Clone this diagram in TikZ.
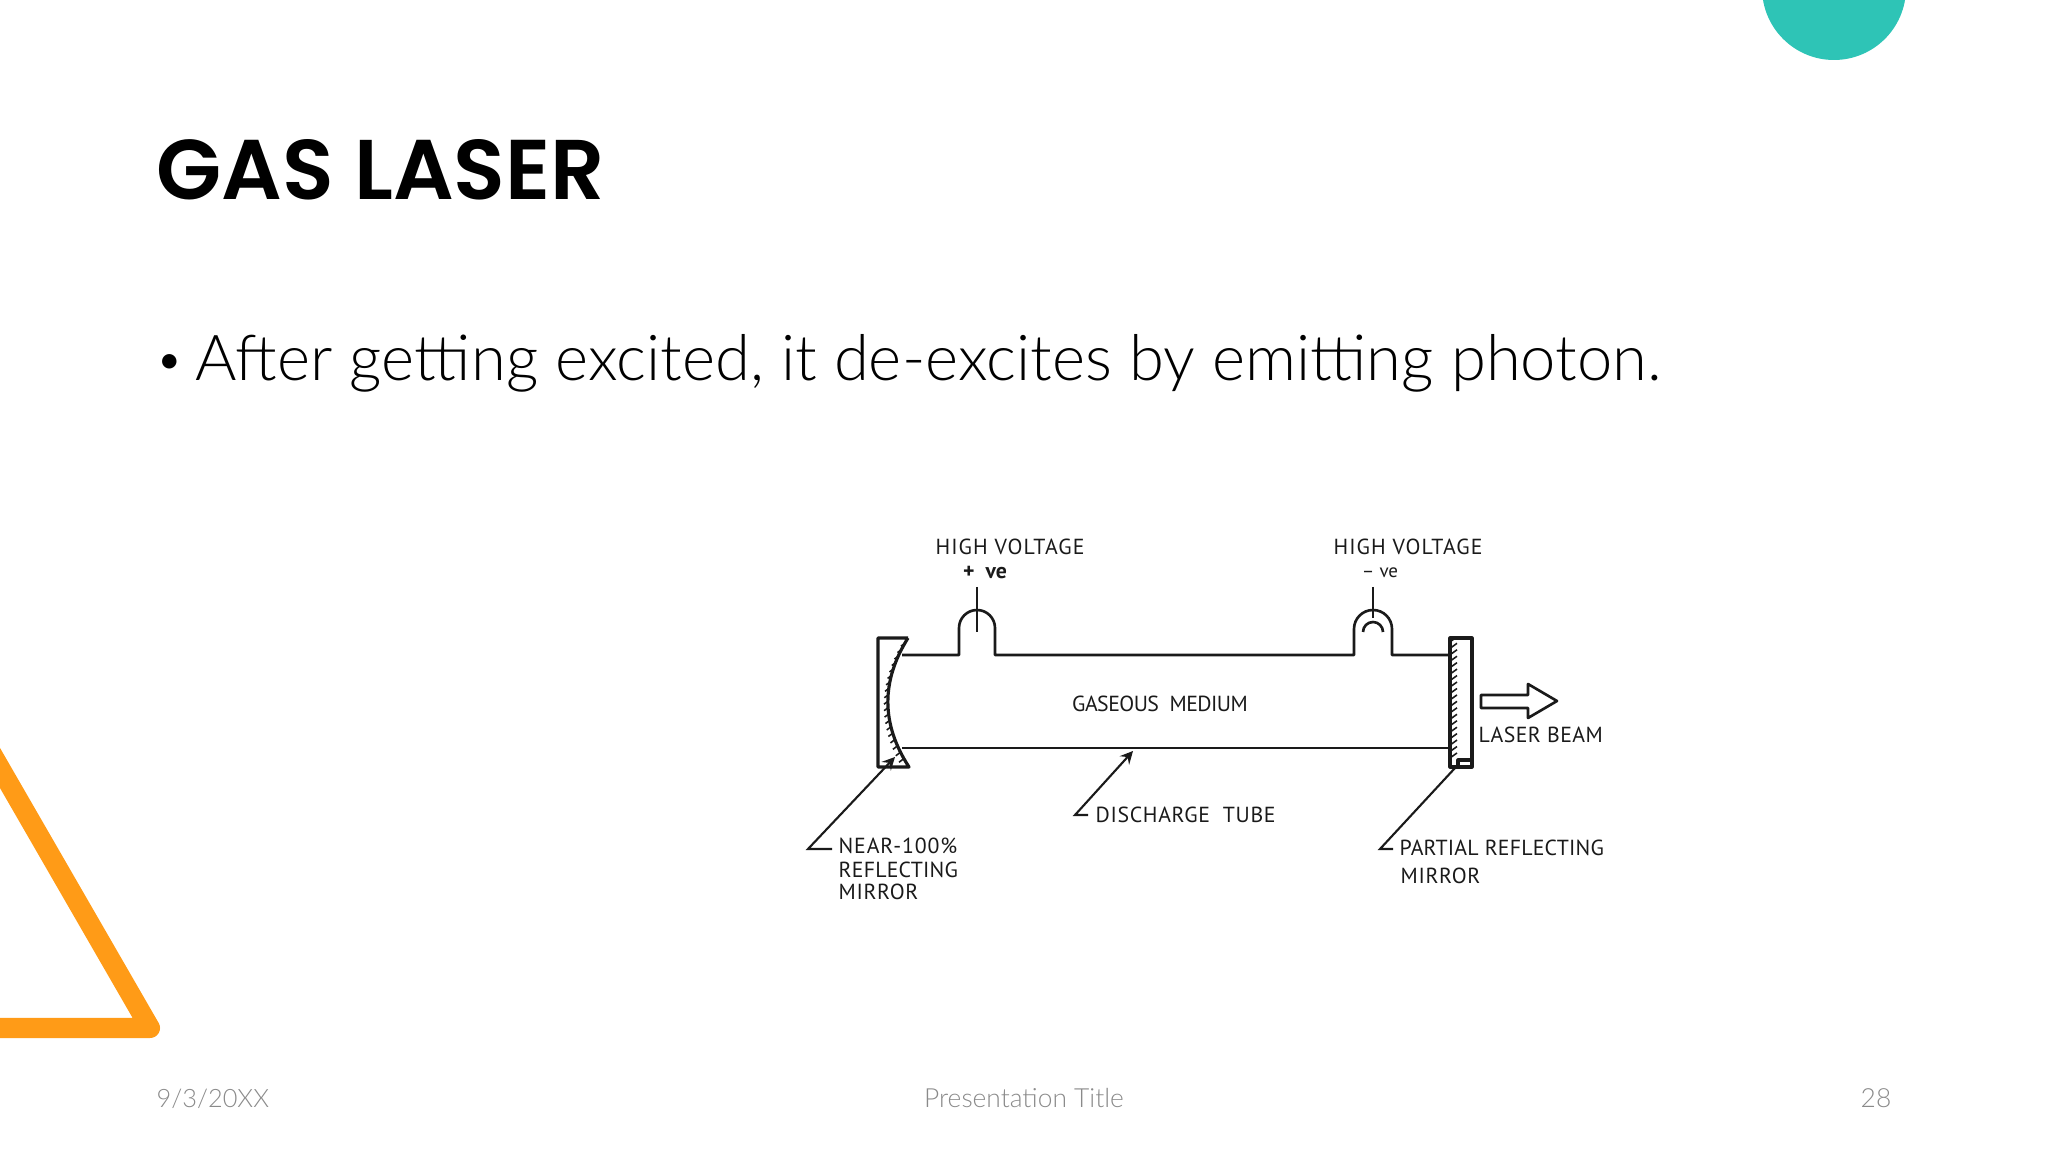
\documentclass[tikz,border=0pt]{standalone}
\usepackage{fontspec}
\setmainfont{Lato}
\newfontfamily\titlefont{Poppins SemiBold}
\newfontfamily\bodyfont{Lato Light}
\newfontfamily\stencilfont{PT Sans}
\newcommand{\lsp}[1]{\addfontfeature{LetterSpace=#1}}
\usetikzlibrary{arrows}
\definecolor{tealdot}{HTML}{2EC4B6}
\definecolor{orangetri}{HTML}{FF9B17}
\definecolor{footgray}{HTML}{8A8A8A}
\definecolor{inkline}{HTML}{1A1A1A}
\tikzstyle{heading} = [anchor=base west, inner sep=0pt, font=\titlefont\fontsize{24.1}{28}\selectfont]
\tikzstyle{bodytext} = [anchor=base west, inner sep=0pt, font=\bodyfont\fontsize{18}{20}\selectfont]
\tikzstyle{footer} = [inner sep=0pt, text=footgray, font=\bodyfont\fontsize{7.5}{9}\selectfont]
\tikzstyle{label} = [inner sep=0pt, text=inkline, font=\stencilfont\fontsize{6.2}{7}\selectfont]
\tikzstyle{labelleft} = [label, anchor=west]
\tikzstyle{tube} = [inkline, line width=0.75pt, line join=round]
\tikzstyle{mirror} = [inkline, line width=0.9pt, line join=round]
\tikzstyle{hatch} = [inkline, line width=0.45pt]
\tikzstyle{leader} = [inkline, line width=0.6pt]
\tikzstyle{arrow} = [leader,->,>=stealth]

\begin{document}
\begin{tikzpicture}[x=0.01cm, y=-0.01cm]
\useasboundingbox (0,0) rectangle (2048,1152);
\clip (0,0) rectangle (2048,1152);

% slide
\fill[tealdot] (1834,-12) circle (72);
\draw[orangetri, line width=5.7pt, line join=round] (-30,716) -- (150,1028) -- (-30,1028);
\node(title)[heading] at (156,200){GAS LASER};
\node(bullet)[bodytext, font=\bodyfont\fontsize{14}{16}\selectfont] at (155,377){\textbullet};
\node(point)[bodytext] at (195,381){After getting excited, it de-excites by emitting photon.};
\node(date)[footer, anchor=base west, font=\bodyfont\fontsize{7.2}{9}\selectfont] at (156,1107){9/3/20XX};
\node(pres)[footer, anchor=base] at (1024,1107){Presentation Title};
\node(page)[footer, anchor=base east] at (1892,1107){28};

% tube
\draw[tube] (902,655) -- (959,655) -- (959,628) arc (180:360:18) -- (995,655) -- (1354,655)
  -- (1354,629) arc (180:360:19) -- (1392,655) -- (1448,655);
\draw[tube] (902,748) -- (1448,748);

% electrodes
\draw[tube] (977,587) -- (977,632);
\draw[tube] (1373,587) -- (1373,618);
\draw[tube] (1363,632) arc (180:360:10);

% left mirror
\draw[mirror] (908,638) -- (878,638) -- (878,767) -- (909,767)
  .. controls (881,724) and (881,681) .. (908,638);
\foreach \t in {0.04,0.09,...,0.98}{
  \pgfmathsetmacro{\hy}{638+129*\t}
  \pgfmathsetmacro{\hx}{888+20*((\hy-703)/65)^2}
  \draw[hatch] (\hx,\hy) -- ++(-4,3);
}

% right mirror
\draw[mirror] (1450,638) rectangle (1472,767);
\foreach \t in {0.03,0.08,...,0.97}{
  \pgfmathsetmacro{\hy}{638+129*\t}
  \draw[hatch] (1450,\hy) -- ++(7,-5);
}
\draw[mirror] (1458,767) -- (1458,760) -- (1472,760);

% beam
\draw[tube] (1481,695) -- (1528,695) -- (1528,684) -- (1557,701)
  -- (1528,718) -- (1528,708) -- (1481,708) -- cycle;

% labels
\node(hvplus)[label] at (1010,547){\lsp{5}HIGH VOLTAGE};
\node(plusve)[label] at (985,573){\textbf{+\ \ ve}};
\node(hvminus)[label] at (1408,547){\lsp{5}HIGH VOLTAGE};
\node(minusve)[label] at (1380,573){\fontsize{5.4}{6}\selectfont – ve};
\node(medium)[label] at (1160,704){\lsp{-2.5}GASEOUS \ MEDIUM};
\node(discharge)[labelleft] at (1095,815){\lsp{3}DISCHARGE \ TUBE};
\node(near)[labelleft] at (838,846){\lsp{4}NEAR-100\%};
\node(refl)[labelleft] at (838,870){\lsp{1}REFLECTING};
\node(mirrorleft)[labelleft] at (838,892){\lsp{3}MIRROR};
\node(beam)[labelleft] at (1478,735){\lsp{2}LASER BEAM};
\node(partial)[labelleft] at (1399,848){\lsp{1}PARTIAL REFLECTING};
\node(mirrorright)[labelleft] at (1400,876){\lsp{3}MIRROR};

% leaders
\coordinate(nearend) at (895,757);
\coordinate(nearkink) at (808,849);
\coordinate(dischargeend) at (1133,751);
\coordinate(dischargekink) at (1075,815);
\coordinate(partialend) at (1455,768);
\coordinate(partialkink) at (1380,849);
\draw[arrow] (near.west) ++(-6,3) -- (nearkink) -- (nearend);
\draw[arrow] (discharge.west) ++(-7,0) -- (dischargekink) -- (dischargeend);
\draw[leader] (partial.west) ++(-6,1) -- (partialkink) -- (partialend);

\end{tikzpicture}
\end{document}
